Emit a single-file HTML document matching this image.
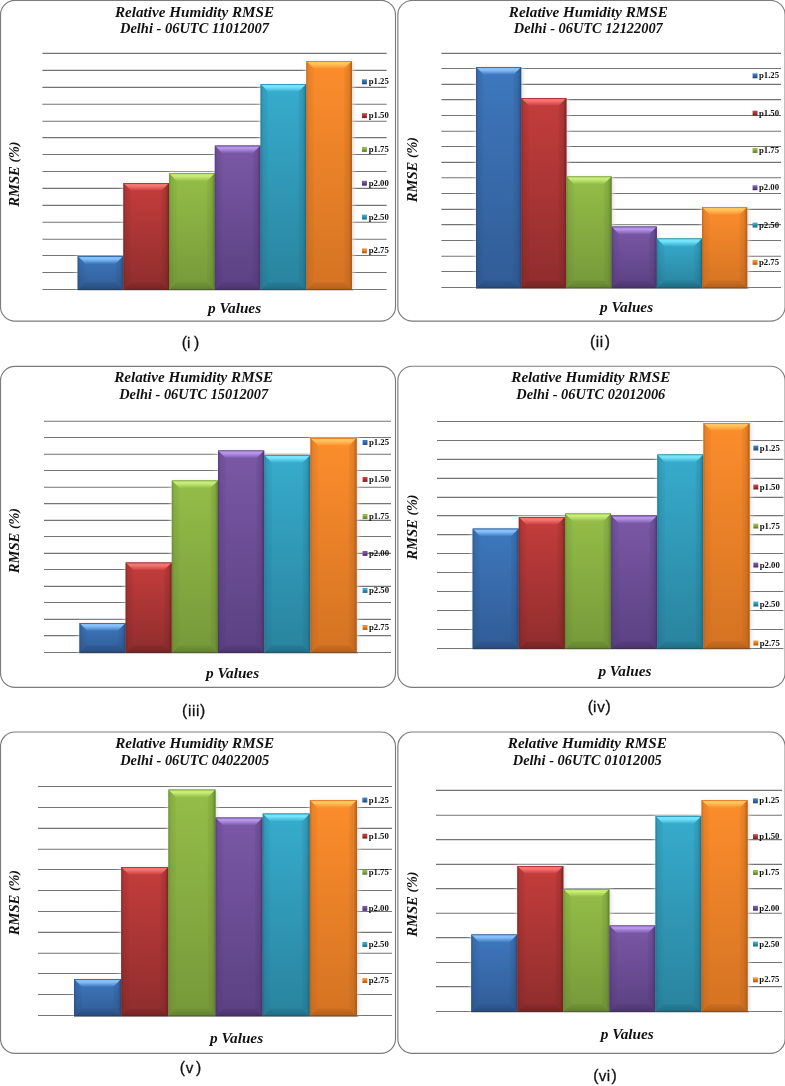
<!DOCTYPE html>
<html lang="en"><head><meta charset="utf-8"><title>Relative Humidity RMSE - Delhi</title>
<style>
html,body{margin:0;padding:0;background:#fff;}
body{width:785px;height:1086px;overflow:hidden;}
svg{display:block;position:absolute;left:0;top:0;}
.t{font-family:"Liberation Serif",serif;font-weight:bold;font-style:italic;font-size:15px;fill:#111;}
.l{font-family:"Liberation Serif",serif;font-weight:bold;font-size:9px;fill:#111;}
.c{font-family:"Liberation Sans",sans-serif;font-size:15px;fill:#111;stroke:#111;stroke-width:0.3;}
.g{stroke:#747474;stroke-width:1.1;fill:none;}
.bx{stroke:#7c7c7c;stroke-width:1.15;fill:#fff;}
</style></head><body>
<svg width="785" height="1086" viewBox="0 0 785 1086">
<defs>
<filter id="sh" x="-20%" y="-20%" width="140%" height="140%"><feGaussianBlur stdDeviation="2"/></filter>
<linearGradient id="fb" x1="0" y1="0" x2="0" y2="1"><stop offset="0" stop-color="#3E78BE"/><stop offset="1" stop-color="#315C96"/></linearGradient>
<linearGradient id="hb" x1="0" y1="0" x2="0" y2="1"><stop offset="0" stop-color="#315C96"/><stop offset="0.06" stop-color="#356AAB"/><stop offset="0.17" stop-color="#86C0FA"/><stop offset="0.38" stop-color="#86C0FA"/><stop offset="1" stop-color="#3E78BE"/></linearGradient>
<linearGradient id="db" x1="0" y1="0" x2="0" y2="1"><stop offset="0" stop-color="#234674" stop-opacity="0.2"/><stop offset="0.6" stop-color="#234674" stop-opacity="0.48"/><stop offset="0.85" stop-color="#234674" stop-opacity="0.7"/><stop offset="1" stop-color="#234674" stop-opacity="0.95"/></linearGradient>
<linearGradient id="mb" x1="0" y1="0" x2="0" y2="1"><stop offset="0" stop-color="#3E78BE"/><stop offset="0.25" stop-color="#3E78BE"/><stop offset="1" stop-color="#234674"/></linearGradient>
<linearGradient id="slb" x1="0" y1="0" x2="1" y2="0"><stop offset="0" stop-color="#234674" stop-opacity="0.6"/><stop offset="0.3" stop-color="#234674" stop-opacity="0.2"/><stop offset="1" stop-color="#234674" stop-opacity="0.06"/></linearGradient>
<linearGradient id="srb" x1="1" y1="0" x2="0" y2="0"><stop offset="0" stop-color="#234674" stop-opacity="0.95"/><stop offset="0.22" stop-color="#234674" stop-opacity="0.5"/><stop offset="0.45" stop-color="#234674" stop-opacity="0.24"/><stop offset="1" stop-color="#234674" stop-opacity="0.1"/></linearGradient>
<linearGradient id="fr" x1="0" y1="0" x2="0" y2="1"><stop offset="0" stop-color="#C43D3C"/><stop offset="1" stop-color="#8F2D2D"/></linearGradient>
<linearGradient id="hr" x1="0" y1="0" x2="0" y2="1"><stop offset="0" stop-color="#8F2D2D"/><stop offset="0.06" stop-color="#B03636"/><stop offset="0.17" stop-color="#F57370"/><stop offset="0.38" stop-color="#F57370"/><stop offset="1" stop-color="#C43D3C"/></linearGradient>
<linearGradient id="dr" x1="0" y1="0" x2="0" y2="1"><stop offset="0" stop-color="#6A1F1F" stop-opacity="0.2"/><stop offset="0.6" stop-color="#6A1F1F" stop-opacity="0.48"/><stop offset="0.85" stop-color="#6A1F1F" stop-opacity="0.7"/><stop offset="1" stop-color="#6A1F1F" stop-opacity="0.95"/></linearGradient>
<linearGradient id="mr" x1="0" y1="0" x2="0" y2="1"><stop offset="0" stop-color="#C43D3C"/><stop offset="0.25" stop-color="#C43D3C"/><stop offset="1" stop-color="#6A1F1F"/></linearGradient>
<linearGradient id="slr" x1="0" y1="0" x2="1" y2="0"><stop offset="0" stop-color="#6A1F1F" stop-opacity="0.6"/><stop offset="0.3" stop-color="#6A1F1F" stop-opacity="0.2"/><stop offset="1" stop-color="#6A1F1F" stop-opacity="0.06"/></linearGradient>
<linearGradient id="srr" x1="1" y1="0" x2="0" y2="0"><stop offset="0" stop-color="#6A1F1F" stop-opacity="0.95"/><stop offset="0.22" stop-color="#6A1F1F" stop-opacity="0.5"/><stop offset="0.45" stop-color="#6A1F1F" stop-opacity="0.24"/><stop offset="1" stop-color="#6A1F1F" stop-opacity="0.1"/></linearGradient>
<linearGradient id="fg" x1="0" y1="0" x2="0" y2="1"><stop offset="0" stop-color="#94BE48"/><stop offset="1" stop-color="#76993A"/></linearGradient>
<linearGradient id="hg" x1="0" y1="0" x2="0" y2="1"><stop offset="0" stop-color="#76993A"/><stop offset="0.06" stop-color="#86AD40"/><stop offset="0.17" stop-color="#C6EC78"/><stop offset="0.38" stop-color="#C6EC78"/><stop offset="1" stop-color="#94BE48"/></linearGradient>
<linearGradient id="dg" x1="0" y1="0" x2="0" y2="1"><stop offset="0" stop-color="#58762A" stop-opacity="0.2"/><stop offset="0.6" stop-color="#58762A" stop-opacity="0.48"/><stop offset="0.85" stop-color="#58762A" stop-opacity="0.7"/><stop offset="1" stop-color="#58762A" stop-opacity="0.95"/></linearGradient>
<linearGradient id="mg" x1="0" y1="0" x2="0" y2="1"><stop offset="0" stop-color="#94BE48"/><stop offset="0.25" stop-color="#94BE48"/><stop offset="1" stop-color="#58762A"/></linearGradient>
<linearGradient id="slg" x1="0" y1="0" x2="1" y2="0"><stop offset="0" stop-color="#58762A" stop-opacity="0.6"/><stop offset="0.3" stop-color="#58762A" stop-opacity="0.2"/><stop offset="1" stop-color="#58762A" stop-opacity="0.06"/></linearGradient>
<linearGradient id="srg" x1="1" y1="0" x2="0" y2="0"><stop offset="0" stop-color="#58762A" stop-opacity="0.95"/><stop offset="0.22" stop-color="#58762A" stop-opacity="0.5"/><stop offset="0.45" stop-color="#58762A" stop-opacity="0.24"/><stop offset="1" stop-color="#58762A" stop-opacity="0.1"/></linearGradient>
<linearGradient id="fp" x1="0" y1="0" x2="0" y2="1"><stop offset="0" stop-color="#7A58A6"/><stop offset="1" stop-color="#5B4182"/></linearGradient>
<linearGradient id="hp" x1="0" y1="0" x2="0" y2="1"><stop offset="0" stop-color="#5B4182"/><stop offset="0.06" stop-color="#6D4E96"/><stop offset="0.17" stop-color="#B594EA"/><stop offset="0.38" stop-color="#B594EA"/><stop offset="1" stop-color="#7A58A6"/></linearGradient>
<linearGradient id="dp" x1="0" y1="0" x2="0" y2="1"><stop offset="0" stop-color="#432D66" stop-opacity="0.2"/><stop offset="0.6" stop-color="#432D66" stop-opacity="0.48"/><stop offset="0.85" stop-color="#432D66" stop-opacity="0.7"/><stop offset="1" stop-color="#432D66" stop-opacity="0.95"/></linearGradient>
<linearGradient id="mp" x1="0" y1="0" x2="0" y2="1"><stop offset="0" stop-color="#7A58A6"/><stop offset="0.25" stop-color="#7A58A6"/><stop offset="1" stop-color="#432D66"/></linearGradient>
<linearGradient id="slp" x1="0" y1="0" x2="1" y2="0"><stop offset="0" stop-color="#432D66" stop-opacity="0.6"/><stop offset="0.3" stop-color="#432D66" stop-opacity="0.2"/><stop offset="1" stop-color="#432D66" stop-opacity="0.06"/></linearGradient>
<linearGradient id="srp" x1="1" y1="0" x2="0" y2="0"><stop offset="0" stop-color="#432D66" stop-opacity="0.95"/><stop offset="0.22" stop-color="#432D66" stop-opacity="0.5"/><stop offset="0.45" stop-color="#432D66" stop-opacity="0.24"/><stop offset="1" stop-color="#432D66" stop-opacity="0.1"/></linearGradient>
<linearGradient id="fc" x1="0" y1="0" x2="0" y2="1"><stop offset="0" stop-color="#37ACCD"/><stop offset="1" stop-color="#29839E"/></linearGradient>
<linearGradient id="hc" x1="0" y1="0" x2="0" y2="1"><stop offset="0" stop-color="#29839E"/><stop offset="0.06" stop-color="#309BBA"/><stop offset="0.17" stop-color="#74E4FC"/><stop offset="0.38" stop-color="#74E4FC"/><stop offset="1" stop-color="#37ACCD"/></linearGradient>
<linearGradient id="dc" x1="0" y1="0" x2="0" y2="1"><stop offset="0" stop-color="#1C6278" stop-opacity="0.2"/><stop offset="0.6" stop-color="#1C6278" stop-opacity="0.48"/><stop offset="0.85" stop-color="#1C6278" stop-opacity="0.7"/><stop offset="1" stop-color="#1C6278" stop-opacity="0.95"/></linearGradient>
<linearGradient id="mc" x1="0" y1="0" x2="0" y2="1"><stop offset="0" stop-color="#37ACCD"/><stop offset="0.25" stop-color="#37ACCD"/><stop offset="1" stop-color="#1C6278"/></linearGradient>
<linearGradient id="slc" x1="0" y1="0" x2="1" y2="0"><stop offset="0" stop-color="#1C6278" stop-opacity="0.6"/><stop offset="0.3" stop-color="#1C6278" stop-opacity="0.2"/><stop offset="1" stop-color="#1C6278" stop-opacity="0.06"/></linearGradient>
<linearGradient id="src" x1="1" y1="0" x2="0" y2="0"><stop offset="0" stop-color="#1C6278" stop-opacity="0.95"/><stop offset="0.22" stop-color="#1C6278" stop-opacity="0.5"/><stop offset="0.45" stop-color="#1C6278" stop-opacity="0.24"/><stop offset="1" stop-color="#1C6278" stop-opacity="0.1"/></linearGradient>
<linearGradient id="fo" x1="0" y1="0" x2="0" y2="1"><stop offset="0" stop-color="#FC8D2C"/><stop offset="1" stop-color="#D47323"/></linearGradient>
<linearGradient id="ho" x1="0" y1="0" x2="0" y2="1"><stop offset="0" stop-color="#D47323"/><stop offset="0.06" stop-color="#E88128"/><stop offset="0.17" stop-color="#FFC45C"/><stop offset="0.38" stop-color="#FFC45C"/><stop offset="1" stop-color="#FC8D2C"/></linearGradient>
<linearGradient id="do" x1="0" y1="0" x2="0" y2="1"><stop offset="0" stop-color="#A45616" stop-opacity="0.2"/><stop offset="0.6" stop-color="#A45616" stop-opacity="0.48"/><stop offset="0.85" stop-color="#A45616" stop-opacity="0.7"/><stop offset="1" stop-color="#A45616" stop-opacity="0.95"/></linearGradient>
<linearGradient id="mo" x1="0" y1="0" x2="0" y2="1"><stop offset="0" stop-color="#FC8D2C"/><stop offset="0.25" stop-color="#FC8D2C"/><stop offset="1" stop-color="#A45616"/></linearGradient>
<linearGradient id="slo" x1="0" y1="0" x2="1" y2="0"><stop offset="0" stop-color="#A45616" stop-opacity="0.6"/><stop offset="0.3" stop-color="#A45616" stop-opacity="0.2"/><stop offset="1" stop-color="#A45616" stop-opacity="0.06"/></linearGradient>
<linearGradient id="sro" x1="1" y1="0" x2="0" y2="0"><stop offset="0" stop-color="#A45616" stop-opacity="0.95"/><stop offset="0.22" stop-color="#A45616" stop-opacity="0.5"/><stop offset="0.45" stop-color="#A45616" stop-opacity="0.24"/><stop offset="1" stop-color="#A45616" stop-opacity="0.1"/></linearGradient>
</defs>
<g id="chart-i">
<rect class="bx" x="0.5" y="0.3" width="395" height="320.9" rx="14.5" ry="14.5"/>
<path class="g" d="M42.4 53.4H386.6M42.4 70.42H386.6M42.4 87.4H386.6M42.4 104.3H386.6M42.4 121.25H386.6M42.4 137.65H386.6M42.4 154.5H386.6M42.4 171.45H386.6M42.4 188.4H386.6M42.4 205.35H386.6M42.4 222.25H386.6M42.4 239.25H386.6M42.4 255.5H386.6M42.4 272.5H386.6M42.4 289.5H386.6"/>
<clipPath id="cpi"><rect x="37.4" y="43.2" width="354.2" height="246.7"/></clipPath>
<g clip-path="url(#cpi)"><g filter="url(#sh)" fill="#fff" opacity="0.7"><rect x="76.6" y="255" width="48.73" height="34.4"/><rect x="122.33" y="182" width="48.73" height="107.4"/><rect x="168.06" y="172.3" width="48.73" height="117.1"/><rect x="213.79" y="144.6" width="48.73" height="144.8"/><rect x="259.52" y="83" width="48.73" height="206.4"/><rect x="305.25" y="60" width="48.73" height="229.4"/></g></g>
<g clip-path="url(#cpi)"><g filter="url(#sh)" fill="#000" opacity="0.13"><rect x="79.1" y="257" width="45.73" height="33.4"/><rect x="124.83" y="184" width="45.73" height="106.4"/><rect x="170.56" y="174.3" width="45.73" height="116.1"/><rect x="216.29" y="146.6" width="45.73" height="143.8"/><rect x="262.02" y="85" width="45.73" height="205.4"/><rect x="307.75" y="62" width="45.73" height="228.4"/></g></g>
<rect x="77.6" y="256" width="45.73" height="34" fill="url(#fb)"/><path d="M77.6 256h45.73l-7.8 7.8h-30.13z" fill="url(#hb)"/><path d="M77.6 290h45.73l-7.8 -7.8h-30.13z" fill="url(#db)"/><path d="M77.6 256l7.8 7.8v18.4l-7.8 7.8z" fill="url(#slb)"/><path d="M123.33 256l-7.8 7.8v18.4l7.8 7.8z" fill="url(#srb)"/>
<rect x="123.33" y="183" width="45.73" height="107" fill="url(#fr)"/><path d="M123.33 183h45.73l-7.8 7.8h-30.13z" fill="url(#hr)"/><path d="M123.33 290h45.73l-7.8 -7.8h-30.13z" fill="url(#dr)"/><path d="M123.33 183l7.8 7.8v91.4l-7.8 7.8z" fill="url(#slr)"/><path d="M169.06 183l-7.8 7.8v91.4l7.8 7.8z" fill="url(#srr)"/>
<rect x="169.06" y="173.3" width="45.73" height="116.7" fill="url(#fg)"/><path d="M169.06 173.3h45.73l-7.8 7.8h-30.13z" fill="url(#hg)"/><path d="M169.06 290h45.73l-7.8 -7.8h-30.13z" fill="url(#dg)"/><path d="M169.06 173.3l7.8 7.8v101.1l-7.8 7.8z" fill="url(#slg)"/><path d="M214.79 173.3l-7.8 7.8v101.1l7.8 7.8z" fill="url(#srg)"/>
<rect x="214.79" y="145.6" width="45.73" height="144.4" fill="url(#fp)"/><path d="M214.79 145.6h45.73l-7.8 7.8h-30.13z" fill="url(#hp)"/><path d="M214.79 290h45.73l-7.8 -7.8h-30.13z" fill="url(#dp)"/><path d="M214.79 145.6l7.8 7.8v128.8l-7.8 7.8z" fill="url(#slp)"/><path d="M260.52 145.6l-7.8 7.8v128.8l7.8 7.8z" fill="url(#srp)"/>
<rect x="260.52" y="84" width="45.73" height="206" fill="url(#fc)"/><path d="M260.52 84h45.73l-7.8 7.8h-30.13z" fill="url(#hc)"/><path d="M260.52 290h45.73l-7.8 -7.8h-30.13z" fill="url(#dc)"/><path d="M260.52 84l7.8 7.8v190.4l-7.8 7.8z" fill="url(#slc)"/><path d="M306.25 84l-7.8 7.8v190.4l7.8 7.8z" fill="url(#src)"/>
<rect x="306.25" y="61" width="45.73" height="229" fill="url(#fo)"/><path d="M306.25 61h45.73l-7.8 7.8h-30.13z" fill="url(#ho)"/><path d="M306.25 290h45.73l-7.8 -7.8h-30.13z" fill="url(#do)"/><path d="M306.25 61l7.8 7.8v213.4l-7.8 7.8z" fill="url(#slo)"/><path d="M351.98 61l-7.8 7.8v213.4l7.8 7.8z" fill="url(#sro)"/>
<path d="M77.6 289.9H353.48" stroke="#333" stroke-opacity="0.55" stroke-width="1" fill="none"/>
<rect x="362" y="79.4" width="4.9" height="4.9" fill="url(#mb)"/><text class="l" x="368.7" y="84.4" textLength="20.2" lengthAdjust="spacingAndGlyphs">p1.25</text>
<rect x="362" y="113.2" width="4.9" height="4.9" fill="url(#mr)"/><text class="l" x="368.7" y="118.2" textLength="20.2" lengthAdjust="spacingAndGlyphs">p1.50</text>
<rect x="362" y="147" width="4.9" height="4.9" fill="url(#mg)"/><text class="l" x="368.7" y="152" textLength="20.2" lengthAdjust="spacingAndGlyphs">p1.75</text>
<rect x="362" y="180.8" width="4.9" height="4.9" fill="url(#mp)"/><text class="l" x="368.7" y="185.8" textLength="20.2" lengthAdjust="spacingAndGlyphs">p2.00</text>
<rect x="362" y="214.6" width="4.9" height="4.9" fill="url(#mc)"/><text class="l" x="368.7" y="219.6" textLength="20.2" lengthAdjust="spacingAndGlyphs">p2.50</text>
<rect x="362" y="248.4" width="4.9" height="4.9" fill="url(#mo)"/><text class="l" x="368.7" y="253.4" textLength="20.2" lengthAdjust="spacingAndGlyphs">p2.75</text>
<text class="t" x="115" y="16.8" textLength="159" lengthAdjust="spacingAndGlyphs">Relative Humidity RMSE</text>
<text class="t" x="120" y="33.4" textLength="149" lengthAdjust="spacingAndGlyphs">Delhi - 06UTC 11012007</text>
<text class="t" x="208.1" y="312.6" textLength="53" lengthAdjust="spacingAndGlyphs">p Values</text>
<text class="t" transform="translate(18.6 206.8) rotate(-90)" textLength="65" lengthAdjust="spacingAndGlyphs">RMSE <tspan font-size="13.2" dy="-0.9">(</tspan><tspan dy="0.9">%</tspan><tspan font-size="13.2" dy="-0.9">)</tspan></text>
<text class="c" y="347.8"><tspan x="181.63" font-size="15.7">(</tspan><tspan x="186.98" font-size="15.2">i</tspan><tspan x="194.01" font-size="15.7">)</tspan></text>
</g>
<g id="chart-ii">
<rect class="bx" x="397.85" y="0.4" width="387.25" height="320.8" rx="14.5" ry="14.5"/>
<path class="g" d="M441.4 53.35H781M441.4 68.55H781M441.4 84.35H781M441.4 99.65H781M441.4 115.45H781M441.4 131.25H781M441.4 146.55H781M441.4 162.4H781M441.4 177.7H781M441.4 193.45H781M441.4 209.35H781M441.4 224.65H781M441.4 240.45H781M441.4 256.25H781M441.4 271.45H781M441.4 287.55H781"/>
<clipPath id="cpii"><rect x="436.4" y="43.2" width="349.6" height="244.9"/></clipPath>
<g clip-path="url(#cpii)"><g filter="url(#sh)" fill="#fff" opacity="0.7"><rect x="475" y="66" width="48.2" height="221.6"/><rect x="520.2" y="97" width="48.2" height="190.6"/><rect x="565.4" y="175.4" width="48.2" height="112.2"/><rect x="610.6" y="225.6" width="48.2" height="62"/><rect x="655.8" y="237.4" width="48.2" height="50.2"/><rect x="701" y="206" width="48.2" height="81.6"/></g></g>
<g clip-path="url(#cpii)"><g filter="url(#sh)" fill="#000" opacity="0.13"><rect x="477.5" y="68" width="45.2" height="220.6"/><rect x="522.7" y="99" width="45.2" height="189.6"/><rect x="567.9" y="177.4" width="45.2" height="111.2"/><rect x="613.1" y="227.6" width="45.2" height="61"/><rect x="658.3" y="239.4" width="45.2" height="49.2"/><rect x="703.5" y="208" width="45.2" height="80.6"/></g></g>
<rect x="476" y="67" width="45.2" height="221.2" fill="url(#fb)"/><path d="M476 67h45.2l-7.8 7.8h-29.6z" fill="url(#hb)"/><path d="M476 288.2h45.2l-7.8 -7.8h-29.6z" fill="url(#db)"/><path d="M476 67l7.8 7.8v205.6l-7.8 7.8z" fill="url(#slb)"/><path d="M521.2 67l-7.8 7.8v205.6l7.8 7.8z" fill="url(#srb)"/>
<rect x="521.2" y="98" width="45.2" height="190.2" fill="url(#fr)"/><path d="M521.2 98h45.2l-7.8 7.8h-29.6z" fill="url(#hr)"/><path d="M521.2 288.2h45.2l-7.8 -7.8h-29.6z" fill="url(#dr)"/><path d="M521.2 98l7.8 7.8v174.6l-7.8 7.8z" fill="url(#slr)"/><path d="M566.4 98l-7.8 7.8v174.6l7.8 7.8z" fill="url(#srr)"/>
<rect x="566.4" y="176.4" width="45.2" height="111.8" fill="url(#fg)"/><path d="M566.4 176.4h45.2l-7.8 7.8h-29.6z" fill="url(#hg)"/><path d="M566.4 288.2h45.2l-7.8 -7.8h-29.6z" fill="url(#dg)"/><path d="M566.4 176.4l7.8 7.8v96.2l-7.8 7.8z" fill="url(#slg)"/><path d="M611.6 176.4l-7.8 7.8v96.2l7.8 7.8z" fill="url(#srg)"/>
<rect x="611.6" y="226.6" width="45.2" height="61.6" fill="url(#fp)"/><path d="M611.6 226.6h45.2l-7.8 7.8h-29.6z" fill="url(#hp)"/><path d="M611.6 288.2h45.2l-7.8 -7.8h-29.6z" fill="url(#dp)"/><path d="M611.6 226.6l7.8 7.8v46l-7.8 7.8z" fill="url(#slp)"/><path d="M656.8 226.6l-7.8 7.8v46l7.8 7.8z" fill="url(#srp)"/>
<rect x="656.8" y="238.4" width="45.2" height="49.8" fill="url(#fc)"/><path d="M656.8 238.4h45.2l-7.8 7.8h-29.6z" fill="url(#hc)"/><path d="M656.8 288.2h45.2l-7.8 -7.8h-29.6z" fill="url(#dc)"/><path d="M656.8 238.4l7.8 7.8v34.2l-7.8 7.8z" fill="url(#slc)"/><path d="M702 238.4l-7.8 7.8v34.2l7.8 7.8z" fill="url(#src)"/>
<rect x="702" y="207" width="45.2" height="81.2" fill="url(#fo)"/><path d="M702 207h45.2l-7.8 7.8h-29.6z" fill="url(#ho)"/><path d="M702 288.2h45.2l-7.8 -7.8h-29.6z" fill="url(#do)"/><path d="M702 207l7.8 7.8v65.6l-7.8 7.8z" fill="url(#slo)"/><path d="M747.2 207l-7.8 7.8v65.6l7.8 7.8z" fill="url(#sro)"/>
<path d="M476 288.1H748.7" stroke="#333" stroke-opacity="0.55" stroke-width="1" fill="none"/>
<rect x="752.6" y="73.4" width="4.9" height="4.9" fill="url(#mb)"/><text class="l" x="758.9" y="78.4" textLength="20.2" lengthAdjust="spacingAndGlyphs">p1.25</text>
<rect x="752.6" y="110.7" width="4.9" height="4.9" fill="url(#mr)"/><text class="l" x="758.9" y="115.7" textLength="20.2" lengthAdjust="spacingAndGlyphs">p1.50</text>
<rect x="752.6" y="148" width="4.9" height="4.9" fill="url(#mg)"/><text class="l" x="758.9" y="153" textLength="20.2" lengthAdjust="spacingAndGlyphs">p1.75</text>
<rect x="752.6" y="185.3" width="4.9" height="4.9" fill="url(#mp)"/><text class="l" x="758.9" y="190.3" textLength="20.2" lengthAdjust="spacingAndGlyphs">p2.00</text>
<rect x="752.6" y="222.6" width="4.9" height="4.9" fill="url(#mc)"/><text class="l" x="758.9" y="227.6" textLength="20.2" lengthAdjust="spacingAndGlyphs">p2.50</text>
<rect x="752.6" y="259.9" width="4.9" height="4.9" fill="url(#mo)"/><text class="l" x="758.9" y="264.9" textLength="20.2" lengthAdjust="spacingAndGlyphs">p2.75</text>
<text class="t" x="508.8" y="16.8" textLength="159" lengthAdjust="spacingAndGlyphs">Relative Humidity RMSE</text>
<text class="t" x="513.8" y="33.4" textLength="149" lengthAdjust="spacingAndGlyphs">Delhi - 06UTC 12122007</text>
<text class="t" x="600.1" y="312.4" textLength="53" lengthAdjust="spacingAndGlyphs">p Values</text>
<text class="t" transform="translate(416.6 202.3) rotate(-90)" textLength="65" lengthAdjust="spacingAndGlyphs">RMSE <tspan font-size="13.2" dy="-0.9">(</tspan><tspan dy="0.9">%</tspan><tspan font-size="13.2" dy="-0.9">)</tspan></text>
<text class="c" y="346.65"><tspan x="590.08" font-size="15.7">(</tspan><tspan x="595.78" font-size="15.2">i</tspan><tspan x="599.83" font-size="15.2">i</tspan><tspan x="604.71" font-size="15.7">)</tspan></text>
</g>
<g id="chart-iii">
<rect class="bx" x="0.5" y="366.3" width="395" height="321.1" rx="14.5" ry="14.5"/>
<path class="g" d="M44 421.25H391M44 437.45H391M44 454.25H391M44 470.55H391M44 487.25H391M44 503.6H391M44 520.35H391M44 536.55H391M44 553.35H391M44 569.55H391M44 586.35H391M44 602.55H391M44 619.35H391M44 635.65H391M44 652.45H391"/>
<clipPath id="cpiii"><rect x="39" y="411" width="357" height="241.9"/></clipPath>
<g clip-path="url(#cpiii)"><g filter="url(#sh)" fill="#fff" opacity="0.7"><rect x="78.4" y="622" width="49.2" height="30.4"/><rect x="124.6" y="561.5" width="49.2" height="90.9"/><rect x="170.8" y="479.4" width="49.2" height="173"/><rect x="217" y="449.4" width="49.2" height="203"/><rect x="263.2" y="454" width="49.2" height="198.4"/><rect x="309.4" y="437" width="49.2" height="215.4"/></g></g>
<g clip-path="url(#cpiii)"><g filter="url(#sh)" fill="#000" opacity="0.13"><rect x="80.9" y="624" width="46.2" height="29.4"/><rect x="127.1" y="563.5" width="46.2" height="89.9"/><rect x="173.3" y="481.4" width="46.2" height="172"/><rect x="219.5" y="451.4" width="46.2" height="202"/><rect x="265.7" y="456" width="46.2" height="197.4"/><rect x="311.9" y="439" width="46.2" height="214.4"/></g></g>
<rect x="79.4" y="623" width="46.2" height="30" fill="url(#fb)"/><path d="M79.4 623h46.2l-7.8 7.8h-30.6z" fill="url(#hb)"/><path d="M79.4 653h46.2l-7.8 -7.8h-30.6z" fill="url(#db)"/><path d="M79.4 623l7.8 7.8v14.4l-7.8 7.8z" fill="url(#slb)"/><path d="M125.6 623l-7.8 7.8v14.4l7.8 7.8z" fill="url(#srb)"/>
<rect x="125.6" y="562.5" width="46.2" height="90.5" fill="url(#fr)"/><path d="M125.6 562.5h46.2l-7.8 7.8h-30.6z" fill="url(#hr)"/><path d="M125.6 653h46.2l-7.8 -7.8h-30.6z" fill="url(#dr)"/><path d="M125.6 562.5l7.8 7.8v74.9l-7.8 7.8z" fill="url(#slr)"/><path d="M171.8 562.5l-7.8 7.8v74.9l7.8 7.8z" fill="url(#srr)"/>
<rect x="171.8" y="480.4" width="46.2" height="172.6" fill="url(#fg)"/><path d="M171.8 480.4h46.2l-7.8 7.8h-30.6z" fill="url(#hg)"/><path d="M171.8 653h46.2l-7.8 -7.8h-30.6z" fill="url(#dg)"/><path d="M171.8 480.4l7.8 7.8v157l-7.8 7.8z" fill="url(#slg)"/><path d="M218 480.4l-7.8 7.8v157l7.8 7.8z" fill="url(#srg)"/>
<rect x="218" y="450.4" width="46.2" height="202.6" fill="url(#fp)"/><path d="M218 450.4h46.2l-7.8 7.8h-30.6z" fill="url(#hp)"/><path d="M218 653h46.2l-7.8 -7.8h-30.6z" fill="url(#dp)"/><path d="M218 450.4l7.8 7.8v187l-7.8 7.8z" fill="url(#slp)"/><path d="M264.2 450.4l-7.8 7.8v187l7.8 7.8z" fill="url(#srp)"/>
<rect x="264.2" y="455" width="46.2" height="198" fill="url(#fc)"/><path d="M264.2 455h46.2l-7.8 7.8h-30.6z" fill="url(#hc)"/><path d="M264.2 653h46.2l-7.8 -7.8h-30.6z" fill="url(#dc)"/><path d="M264.2 455l7.8 7.8v182.4l-7.8 7.8z" fill="url(#slc)"/><path d="M310.4 455l-7.8 7.8v182.4l7.8 7.8z" fill="url(#src)"/>
<rect x="310.4" y="438" width="46.2" height="215" fill="url(#fo)"/><path d="M310.4 438h46.2l-7.8 7.8h-30.6z" fill="url(#ho)"/><path d="M310.4 653h46.2l-7.8 -7.8h-30.6z" fill="url(#do)"/><path d="M310.4 438l7.8 7.8v199.4l-7.8 7.8z" fill="url(#slo)"/><path d="M356.6 438l-7.8 7.8v199.4l7.8 7.8z" fill="url(#sro)"/>
<path d="M79.4 652.9H358.1" stroke="#333" stroke-opacity="0.55" stroke-width="1" fill="none"/>
<rect x="362.6" y="440" width="4.9" height="4.9" fill="url(#mb)"/><text class="l" x="368.9" y="445" textLength="20.2" lengthAdjust="spacingAndGlyphs">p1.25</text>
<rect x="362.6" y="477" width="4.9" height="4.9" fill="url(#mr)"/><text class="l" x="368.9" y="482" textLength="20.2" lengthAdjust="spacingAndGlyphs">p1.50</text>
<rect x="362.6" y="514" width="4.9" height="4.9" fill="url(#mg)"/><text class="l" x="368.9" y="519" textLength="20.2" lengthAdjust="spacingAndGlyphs">p1.75</text>
<rect x="362.6" y="551" width="4.9" height="4.9" fill="url(#mp)"/><text class="l" x="368.9" y="556" textLength="20.2" lengthAdjust="spacingAndGlyphs">p2.00</text>
<rect x="362.6" y="588" width="4.9" height="4.9" fill="url(#mc)"/><text class="l" x="368.9" y="593" textLength="20.2" lengthAdjust="spacingAndGlyphs">p2.50</text>
<rect x="362.6" y="625" width="4.9" height="4.9" fill="url(#mo)"/><text class="l" x="368.9" y="630" textLength="20.2" lengthAdjust="spacingAndGlyphs">p2.75</text>
<text class="t" x="114.2" y="382.4" textLength="159" lengthAdjust="spacingAndGlyphs">Relative Humidity RMSE</text>
<text class="t" x="119.2" y="399" textLength="149" lengthAdjust="spacingAndGlyphs">Delhi - 06UTC 15012007</text>
<text class="t" x="206.1" y="678" textLength="53" lengthAdjust="spacingAndGlyphs">p Values</text>
<text class="t" transform="translate(18.6 573.3) rotate(-90)" textLength="65" lengthAdjust="spacingAndGlyphs">RMSE <tspan font-size="13.2" dy="-0.9">(</tspan><tspan dy="0.9">%</tspan><tspan font-size="13.2" dy="-0.9">)</tspan></text>
<text class="c" y="715.65"><tspan x="182.03" font-size="15.7">(</tspan><tspan x="187.93" font-size="15.2">i</tspan><tspan x="191.93" font-size="15.2">i</tspan><tspan x="195.88" font-size="15.2">i</tspan><tspan x="200.11" font-size="15.7">)</tspan></text>
</g>
<g id="chart-iv">
<rect class="bx" x="397.85" y="366.2" width="387.25" height="321.2" rx="14.5" ry="14.5"/>
<path class="g" d="M437 421.45H783.4M437 440.45H783.4M437 459.35H783.4M437 478.35H783.4M437 497.35H783.4M437 515.6H783.4M437 534.65H783.4M437 553.55H783.4M437 572.55H783.4M437 591.45H783.4M437 610.45H783.4M437 629.45H783.4M437 648.45H783.4"/>
<clipPath id="cpiv"><rect x="432" y="411.4" width="356.4" height="237.5"/></clipPath>
<g clip-path="url(#cpiv)"><g filter="url(#sh)" fill="#fff" opacity="0.7"><rect x="471.6" y="527.6" width="49.16" height="120.8"/><rect x="517.76" y="516" width="49.16" height="132.4"/><rect x="563.92" y="512.4" width="49.16" height="136"/><rect x="610.08" y="514.6" width="49.16" height="133.8"/><rect x="656.24" y="453.4" width="49.16" height="195"/><rect x="702.4" y="422" width="49.16" height="226.4"/></g></g>
<g clip-path="url(#cpiv)"><g filter="url(#sh)" fill="#000" opacity="0.13"><rect x="474.1" y="529.6" width="46.16" height="119.8"/><rect x="520.26" y="518" width="46.16" height="131.4"/><rect x="566.42" y="514.4" width="46.16" height="135"/><rect x="612.58" y="516.6" width="46.16" height="132.8"/><rect x="658.74" y="455.4" width="46.16" height="194"/><rect x="704.9" y="424" width="46.16" height="225.4"/></g></g>
<rect x="472.6" y="528.6" width="46.16" height="120.4" fill="url(#fb)"/><path d="M472.6 528.6h46.16l-7.8 7.8h-30.56z" fill="url(#hb)"/><path d="M472.6 649h46.16l-7.8 -7.8h-30.56z" fill="url(#db)"/><path d="M472.6 528.6l7.8 7.8v104.8l-7.8 7.8z" fill="url(#slb)"/><path d="M518.76 528.6l-7.8 7.8v104.8l7.8 7.8z" fill="url(#srb)"/>
<rect x="518.76" y="517" width="46.16" height="132" fill="url(#fr)"/><path d="M518.76 517h46.16l-7.8 7.8h-30.56z" fill="url(#hr)"/><path d="M518.76 649h46.16l-7.8 -7.8h-30.56z" fill="url(#dr)"/><path d="M518.76 517l7.8 7.8v116.4l-7.8 7.8z" fill="url(#slr)"/><path d="M564.92 517l-7.8 7.8v116.4l7.8 7.8z" fill="url(#srr)"/>
<rect x="564.92" y="513.4" width="46.16" height="135.6" fill="url(#fg)"/><path d="M564.92 513.4h46.16l-7.8 7.8h-30.56z" fill="url(#hg)"/><path d="M564.92 649h46.16l-7.8 -7.8h-30.56z" fill="url(#dg)"/><path d="M564.92 513.4l7.8 7.8v120l-7.8 7.8z" fill="url(#slg)"/><path d="M611.08 513.4l-7.8 7.8v120l7.8 7.8z" fill="url(#srg)"/>
<rect x="611.08" y="515.6" width="46.16" height="133.4" fill="url(#fp)"/><path d="M611.08 515.6h46.16l-7.8 7.8h-30.56z" fill="url(#hp)"/><path d="M611.08 649h46.16l-7.8 -7.8h-30.56z" fill="url(#dp)"/><path d="M611.08 515.6l7.8 7.8v117.8l-7.8 7.8z" fill="url(#slp)"/><path d="M657.24 515.6l-7.8 7.8v117.8l7.8 7.8z" fill="url(#srp)"/>
<rect x="657.24" y="454.4" width="46.16" height="194.6" fill="url(#fc)"/><path d="M657.24 454.4h46.16l-7.8 7.8h-30.56z" fill="url(#hc)"/><path d="M657.24 649h46.16l-7.8 -7.8h-30.56z" fill="url(#dc)"/><path d="M657.24 454.4l7.8 7.8v179l-7.8 7.8z" fill="url(#slc)"/><path d="M703.4 454.4l-7.8 7.8v179l7.8 7.8z" fill="url(#src)"/>
<rect x="703.4" y="423" width="46.16" height="226" fill="url(#fo)"/><path d="M703.4 423h46.16l-7.8 7.8h-30.56z" fill="url(#ho)"/><path d="M703.4 649h46.16l-7.8 -7.8h-30.56z" fill="url(#do)"/><path d="M703.4 423l7.8 7.8v210.4l-7.8 7.8z" fill="url(#slo)"/><path d="M749.56 423l-7.8 7.8v210.4l7.8 7.8z" fill="url(#sro)"/>
<path d="M472.6 648.9H751.06" stroke="#333" stroke-opacity="0.55" stroke-width="1" fill="none"/>
<rect x="753.4" y="445.6" width="4.9" height="4.9" fill="url(#mb)"/><text class="l" x="759.7" y="450.6" textLength="20.2" lengthAdjust="spacingAndGlyphs">p1.25</text>
<rect x="753.4" y="484.6" width="4.9" height="4.9" fill="url(#mr)"/><text class="l" x="759.7" y="489.6" textLength="20.2" lengthAdjust="spacingAndGlyphs">p1.50</text>
<rect x="753.4" y="523.6" width="4.9" height="4.9" fill="url(#mg)"/><text class="l" x="759.7" y="528.6" textLength="20.2" lengthAdjust="spacingAndGlyphs">p1.75</text>
<rect x="753.4" y="562.6" width="4.9" height="4.9" fill="url(#mp)"/><text class="l" x="759.7" y="567.6" textLength="20.2" lengthAdjust="spacingAndGlyphs">p2.00</text>
<rect x="753.4" y="601.6" width="4.9" height="4.9" fill="url(#mc)"/><text class="l" x="759.7" y="606.6" textLength="20.2" lengthAdjust="spacingAndGlyphs">p2.50</text>
<rect x="753.4" y="640.6" width="4.9" height="4.9" fill="url(#mo)"/><text class="l" x="759.7" y="645.6" textLength="20.2" lengthAdjust="spacingAndGlyphs">p2.75</text>
<text class="t" x="511.3" y="382.4" textLength="159" lengthAdjust="spacingAndGlyphs">Relative Humidity RMSE</text>
<text class="t" x="516.3" y="399" textLength="149" lengthAdjust="spacingAndGlyphs">Delhi - 06UTC 02012006</text>
<text class="t" x="598.4" y="675.6" textLength="53" lengthAdjust="spacingAndGlyphs">p Values</text>
<text class="t" transform="translate(416.6 559.8) rotate(-90)" textLength="65" lengthAdjust="spacingAndGlyphs">RMSE <tspan font-size="13.2" dy="-0.9">(</tspan><tspan dy="0.9">%</tspan><tspan font-size="13.2" dy="-0.9">)</tspan></text>
<text class="c" y="711.55"><tspan x="587.63" font-size="15.7">(</tspan><tspan x="592.93" font-size="15.2">i</tspan><tspan x="597.15" font-size="15.2">v</tspan><tspan x="605.51" font-size="15.7">)</tspan></text>
</g>
<g id="chart-v">
<rect class="bx" x="0.5" y="732" width="395" height="321.3" rx="14.5" ry="14.5"/>
<path class="g" d="M38 786.45H392M38 807.45H392M38 828.35H392M38 849.25H392M38 869.45H392M38 890.45H392M38 911.45H392M38 932.35H392M38 953.25H392M38 973.55H392M38 994.55H392M38 1015.55H392"/>
<clipPath id="cpv"><rect x="33" y="776.4" width="364" height="239.7"/></clipPath>
<g clip-path="url(#cpv)"><g filter="url(#sh)" fill="#fff" opacity="0.7"><rect x="73" y="978" width="50.17" height="37.6"/><rect x="120.17" y="866" width="50.17" height="149.6"/><rect x="167.34" y="788.6" width="50.17" height="227"/><rect x="214.51" y="816.6" width="50.17" height="199"/><rect x="261.68" y="812.6" width="50.17" height="203"/><rect x="308.85" y="799" width="50.17" height="216.6"/></g></g>
<g clip-path="url(#cpv)"><g filter="url(#sh)" fill="#000" opacity="0.13"><rect x="75.5" y="980" width="47.17" height="36.6"/><rect x="122.67" y="868" width="47.17" height="148.6"/><rect x="169.84" y="790.6" width="47.17" height="226"/><rect x="217.01" y="818.6" width="47.17" height="198"/><rect x="264.18" y="814.6" width="47.17" height="202"/><rect x="311.35" y="801" width="47.17" height="215.6"/></g></g>
<rect x="74" y="979" width="47.17" height="37.2" fill="url(#fb)"/><path d="M74 979h47.17l-7.8 7.8h-31.57z" fill="url(#hb)"/><path d="M74 1016.2h47.17l-7.8 -7.8h-31.57z" fill="url(#db)"/><path d="M74 979l7.8 7.8v21.6l-7.8 7.8z" fill="url(#slb)"/><path d="M121.17 979l-7.8 7.8v21.6l7.8 7.8z" fill="url(#srb)"/>
<rect x="121.17" y="867" width="47.17" height="149.2" fill="url(#fr)"/><path d="M121.17 867h47.17l-7.8 7.8h-31.57z" fill="url(#hr)"/><path d="M121.17 1016.2h47.17l-7.8 -7.8h-31.57z" fill="url(#dr)"/><path d="M121.17 867l7.8 7.8v133.6l-7.8 7.8z" fill="url(#slr)"/><path d="M168.34 867l-7.8 7.8v133.6l7.8 7.8z" fill="url(#srr)"/>
<rect x="168.34" y="789.6" width="47.17" height="226.6" fill="url(#fg)"/><path d="M168.34 789.6h47.17l-7.8 7.8h-31.57z" fill="url(#hg)"/><path d="M168.34 1016.2h47.17l-7.8 -7.8h-31.57z" fill="url(#dg)"/><path d="M168.34 789.6l7.8 7.8v211l-7.8 7.8z" fill="url(#slg)"/><path d="M215.51 789.6l-7.8 7.8v211l7.8 7.8z" fill="url(#srg)"/>
<rect x="215.51" y="817.6" width="47.17" height="198.6" fill="url(#fp)"/><path d="M215.51 817.6h47.17l-7.8 7.8h-31.57z" fill="url(#hp)"/><path d="M215.51 1016.2h47.17l-7.8 -7.8h-31.57z" fill="url(#dp)"/><path d="M215.51 817.6l7.8 7.8v183l-7.8 7.8z" fill="url(#slp)"/><path d="M262.68 817.6l-7.8 7.8v183l7.8 7.8z" fill="url(#srp)"/>
<rect x="262.68" y="813.6" width="47.17" height="202.6" fill="url(#fc)"/><path d="M262.68 813.6h47.17l-7.8 7.8h-31.57z" fill="url(#hc)"/><path d="M262.68 1016.2h47.17l-7.8 -7.8h-31.57z" fill="url(#dc)"/><path d="M262.68 813.6l7.8 7.8v187l-7.8 7.8z" fill="url(#slc)"/><path d="M309.85 813.6l-7.8 7.8v187l7.8 7.8z" fill="url(#src)"/>
<rect x="309.85" y="800" width="47.17" height="216.2" fill="url(#fo)"/><path d="M309.85 800h47.17l-7.8 7.8h-31.57z" fill="url(#ho)"/><path d="M309.85 1016.2h47.17l-7.8 -7.8h-31.57z" fill="url(#do)"/><path d="M309.85 800l7.8 7.8v200.6l-7.8 7.8z" fill="url(#slo)"/><path d="M357.02 800l-7.8 7.8v200.6l7.8 7.8z" fill="url(#sro)"/>
<path d="M74 1016.1H358.52" stroke="#333" stroke-opacity="0.55" stroke-width="1" fill="none"/>
<rect x="362.4" y="797.6" width="4.9" height="4.9" fill="url(#mb)"/><text class="l" x="368.7" y="802.6" textLength="20.2" lengthAdjust="spacingAndGlyphs">p1.25</text>
<rect x="362.4" y="833.7" width="4.9" height="4.9" fill="url(#mr)"/><text class="l" x="368.7" y="838.7" textLength="20.2" lengthAdjust="spacingAndGlyphs">p1.50</text>
<rect x="362.4" y="869.8" width="4.9" height="4.9" fill="url(#mg)"/><text class="l" x="368.7" y="874.8" textLength="20.2" lengthAdjust="spacingAndGlyphs">p1.75</text>
<rect x="362.4" y="905.9" width="4.9" height="4.9" fill="url(#mp)"/><text class="l" x="368.7" y="910.9" textLength="20.2" lengthAdjust="spacingAndGlyphs">p2.00</text>
<rect x="362.4" y="942" width="4.9" height="4.9" fill="url(#mc)"/><text class="l" x="368.7" y="947" textLength="20.2" lengthAdjust="spacingAndGlyphs">p2.50</text>
<rect x="362.4" y="978.1" width="4.9" height="4.9" fill="url(#mo)"/><text class="l" x="368.7" y="983.1" textLength="20.2" lengthAdjust="spacingAndGlyphs">p2.75</text>
<text class="t" x="115.2" y="748" textLength="159" lengthAdjust="spacingAndGlyphs">Relative Humidity RMSE</text>
<text class="t" x="120.2" y="764.8" textLength="149" lengthAdjust="spacingAndGlyphs">Delhi - 06UTC 04022005</text>
<text class="t" x="210.1" y="1043" textLength="53" lengthAdjust="spacingAndGlyphs">p Values</text>
<text class="t" transform="translate(18.7 935.3) rotate(-90)" textLength="65" lengthAdjust="spacingAndGlyphs">RMSE <tspan font-size="13.2" dy="-0.9">(</tspan><tspan dy="0.9">%</tspan><tspan font-size="13.2" dy="-0.9">)</tspan></text>
<text class="c" y="1073.05"><tspan x="179.73" font-size="15.7">(</tspan><tspan x="185.75" font-size="15.2">v</tspan><tspan x="195.91" font-size="15.7">)</tspan></text>
</g>
<g id="chart-vi">
<rect class="bx" x="397.85" y="732" width="387.25" height="321.3" rx="14.5" ry="14.5"/>
<path class="g" d="M436 790.4H782M436 815.25H782M436 839.65H782M436 864.35H782M436 888.6H782M436 913.3H782M436 937.65H782M436 962.48H782M436 986.65H782M436 1011.45H782"/>
<clipPath id="cpvi"><rect x="431" y="780.4" width="356" height="231.5"/></clipPath>
<g clip-path="url(#cpvi)"><g filter="url(#sh)" fill="#fff" opacity="0.7"><rect x="470.2" y="933.4" width="49.06" height="78"/><rect x="516.26" y="865" width="49.06" height="146.4"/><rect x="562.32" y="888" width="49.06" height="123.4"/><rect x="608.38" y="924.5" width="49.06" height="86.9"/><rect x="654.44" y="815" width="49.06" height="196.4"/><rect x="700.5" y="799" width="49.06" height="212.4"/></g></g>
<g clip-path="url(#cpvi)"><g filter="url(#sh)" fill="#000" opacity="0.13"><rect x="472.7" y="935.4" width="46.06" height="77"/><rect x="518.76" y="867" width="46.06" height="145.4"/><rect x="564.82" y="890" width="46.06" height="122.4"/><rect x="610.88" y="926.5" width="46.06" height="85.9"/><rect x="656.94" y="817" width="46.06" height="195.4"/><rect x="703" y="801" width="46.06" height="211.4"/></g></g>
<rect x="471.2" y="934.4" width="46.06" height="77.6" fill="url(#fb)"/><path d="M471.2 934.4h46.06l-7.8 7.8h-30.46z" fill="url(#hb)"/><path d="M471.2 1012h46.06l-7.8 -7.8h-30.46z" fill="url(#db)"/><path d="M471.2 934.4l7.8 7.8v62l-7.8 7.8z" fill="url(#slb)"/><path d="M517.26 934.4l-7.8 7.8v62l7.8 7.8z" fill="url(#srb)"/>
<rect x="517.26" y="866" width="46.06" height="146" fill="url(#fr)"/><path d="M517.26 866h46.06l-7.8 7.8h-30.46z" fill="url(#hr)"/><path d="M517.26 1012h46.06l-7.8 -7.8h-30.46z" fill="url(#dr)"/><path d="M517.26 866l7.8 7.8v130.4l-7.8 7.8z" fill="url(#slr)"/><path d="M563.32 866l-7.8 7.8v130.4l7.8 7.8z" fill="url(#srr)"/>
<rect x="563.32" y="889" width="46.06" height="123" fill="url(#fg)"/><path d="M563.32 889h46.06l-7.8 7.8h-30.46z" fill="url(#hg)"/><path d="M563.32 1012h46.06l-7.8 -7.8h-30.46z" fill="url(#dg)"/><path d="M563.32 889l7.8 7.8v107.4l-7.8 7.8z" fill="url(#slg)"/><path d="M609.38 889l-7.8 7.8v107.4l7.8 7.8z" fill="url(#srg)"/>
<rect x="609.38" y="925.5" width="46.06" height="86.5" fill="url(#fp)"/><path d="M609.38 925.5h46.06l-7.8 7.8h-30.46z" fill="url(#hp)"/><path d="M609.38 1012h46.06l-7.8 -7.8h-30.46z" fill="url(#dp)"/><path d="M609.38 925.5l7.8 7.8v70.9l-7.8 7.8z" fill="url(#slp)"/><path d="M655.44 925.5l-7.8 7.8v70.9l7.8 7.8z" fill="url(#srp)"/>
<rect x="655.44" y="816" width="46.06" height="196" fill="url(#fc)"/><path d="M655.44 816h46.06l-7.8 7.8h-30.46z" fill="url(#hc)"/><path d="M655.44 1012h46.06l-7.8 -7.8h-30.46z" fill="url(#dc)"/><path d="M655.44 816l7.8 7.8v180.4l-7.8 7.8z" fill="url(#slc)"/><path d="M701.5 816l-7.8 7.8v180.4l7.8 7.8z" fill="url(#src)"/>
<rect x="701.5" y="800" width="46.06" height="212" fill="url(#fo)"/><path d="M701.5 800h46.06l-7.8 7.8h-30.46z" fill="url(#ho)"/><path d="M701.5 1012h46.06l-7.8 -7.8h-30.46z" fill="url(#do)"/><path d="M701.5 800l7.8 7.8v196.4l-7.8 7.8z" fill="url(#slo)"/><path d="M747.56 800l-7.8 7.8v196.4l7.8 7.8z" fill="url(#sro)"/>
<path d="M471.2 1011.9H749.06" stroke="#333" stroke-opacity="0.55" stroke-width="1" fill="none"/>
<rect x="753" y="798.4" width="4.9" height="4.9" fill="url(#mb)"/><text class="l" x="759.3" y="803.4" textLength="20.2" lengthAdjust="spacingAndGlyphs">p1.25</text>
<rect x="753" y="834.2" width="4.9" height="4.9" fill="url(#mr)"/><text class="l" x="759.3" y="839.2" textLength="20.2" lengthAdjust="spacingAndGlyphs">p1.50</text>
<rect x="753" y="870" width="4.9" height="4.9" fill="url(#mg)"/><text class="l" x="759.3" y="875" textLength="20.2" lengthAdjust="spacingAndGlyphs">p1.75</text>
<rect x="753" y="905.8" width="4.9" height="4.9" fill="url(#mp)"/><text class="l" x="759.3" y="910.8" textLength="20.2" lengthAdjust="spacingAndGlyphs">p2.00</text>
<rect x="753" y="941.6" width="4.9" height="4.9" fill="url(#mc)"/><text class="l" x="759.3" y="946.6" textLength="20.2" lengthAdjust="spacingAndGlyphs">p2.50</text>
<rect x="753" y="977.4" width="4.9" height="4.9" fill="url(#mo)"/><text class="l" x="759.3" y="982.4" textLength="20.2" lengthAdjust="spacingAndGlyphs">p2.75</text>
<text class="t" x="507.8" y="748" textLength="159" lengthAdjust="spacingAndGlyphs">Relative Humidity RMSE</text>
<text class="t" x="512.8" y="764.8" textLength="149" lengthAdjust="spacingAndGlyphs">Delhi - 06UTC 01012005</text>
<text class="t" x="600.8" y="1038.6" textLength="53" lengthAdjust="spacingAndGlyphs">p Values</text>
<text class="t" transform="translate(416.6 936.8) rotate(-90)" textLength="65" lengthAdjust="spacingAndGlyphs">RMSE <tspan font-size="13.2" dy="-0.9">(</tspan><tspan dy="0.9">%</tspan><tspan font-size="13.2" dy="-0.9">)</tspan></text>
<text class="c" y="1080.65"><tspan x="593.33" font-size="15.7">(</tspan><tspan x="598.8" font-size="15.2">v</tspan><tspan x="606.68" font-size="15.2">i</tspan><tspan x="611.61" font-size="15.7">)</tspan></text>
</g>
</svg>
</body></html>
